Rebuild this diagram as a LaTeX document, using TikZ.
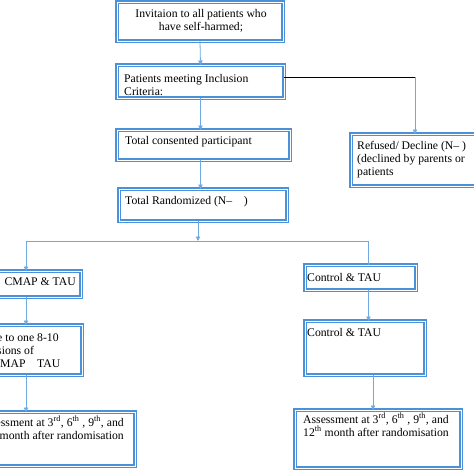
\documentclass[tikz,border=0pt]{standalone}
\usepackage{fontspec}
\setmainfont{Liberation Serif}
\usetikzlibrary{arrows.meta}

\definecolor{boxblue}{RGB}{75,145,218}
\definecolor{arrowblue}{RGB}{110,170,225}

\begin{document}
\begin{tikzpicture}[x=1pt,y=-1pt,
	stagebox/.style={draw=boxblue, double=white, double distance=0.6pt, line width=1.9pt, anchor=north west, inner sep=0pt, outer sep=0pt},
	stagetext/.style={anchor=base west, align=left, inner sep=0pt, font=\fontsize{11.7}{13}\selectfont},
	flow/.style={arrowblue, line width=0.8pt, -{Triangle[width=4.5pt,length=4.5pt]}},
	link/.style={arrowblue, line width=0.8pt}]

	\useasboundingbox (0,0) rectangle (474,474);

	% boxes
	\node[stagebox, minimum width=166pt, minimum height=39pt] (invite) at (117,2) {};
	\node[stagebox, minimum width=167pt, minimum height=33pt] (incl) at (117,65) {};
	\node[stagebox, minimum width=173pt, minimum height=30pt] (consent) at (117,130) {};
	\node[stagebox, minimum width=168pt, minimum height=32pt] (rand) at (119,189) {};
	\node[stagebox, minimum width=140pt, minimum height=52pt] (refused) at (351,134) {};

	\node[stagebox, minimum width=121pt, minimum height=26pt] (cmap) at (-40,271) {};
	\node[stagebox, minimum width=122pt, minimum height=50pt] (cmapses) at (-40,325) {};
	\node[stagebox, minimum width=165pt, minimum height=54pt] (cmapass) at (-30,412) {};

	\node[stagebox, minimum width=111pt, minimum height=25pt] (ctrl) at (305,265) {};
	\node[stagebox, minimum width=120pt, minimum height=54pt] (ctrlses) at (305,321) {};
	\node[stagebox, minimum width=166pt, minimum height=58pt] (ctrlass) at (295,410) {};

	% texts (multi-line ones sit on the base of their last line)
	\node[stagetext, anchor=base, align=center] (invitetxt) at (201,30) {Invitaion to all patients who\\have self-harmed;};
	\node[stagetext] (incltxt) at (124,95) {Patients meeting Inclusion\\Criteria:};
	\node[stagetext] (consenttxt) at (125,144) {Total consented participant};
	\node[stagetext] (randtxt) at (125,204) {Total Randomized (N–\ \ \ \ )};
	\node[stagetext] (refusedtxt) at (357,175) {Refused/ Decline (N– )\\(declined by parents or\\patients};

	\node[stagetext, anchor=base east] (cmaptxt) at (76,285) {CMAP \& TAU};
	\node[stagetext] (cmapsestxt) at (-3,367) {e to one 8-10\\sions of\\\hspace{3pt}MAP\ \ \ \ TAU};
	\node[stagetext] (cmapasstxt) at (-22,439) {Assessment at 3\textsuperscript{rd}, 6\textsuperscript{th} , 9\textsuperscript{th}, and\\12\textsuperscript{th} month after randomisation};

	\node[stagetext] (ctrltxt) at (307,281) {Control \& TAU};
	\node[stagetext] (ctrlsestxt) at (307,336) {Control \& TAU};
	\node[stagetext] (ctrlasstxt) at (303,436) {Assessment at 3\textsuperscript{rd}, 6\textsuperscript{th} , 9\textsuperscript{th}, and\\12\textsuperscript{th} month after randomisation};

	% connectors
	\coordinate (bend) at (415,77);
	\coordinate (split) at (198,241);
	\coordinate (leftdrop) at (26,241);
	\coordinate (rightdrop) at (368,241);

	\draw[flow] (invite.south) -- (incl.north);
	\draw[flow] (incl.south) -- (incl.south |- consent.north);
	\draw[flow] (consent.south -| incl.south) -- (rand.north -| incl.south);
	\draw[black, line width=0.8pt] ([yshift=4.5pt]incl.east) -- (bend);
	\draw[flow] (bend) -- (bend |- refused.north);

	\draw[flow] (rand.south -| split) -- (split);
	\draw[link] (leftdrop) -- (rightdrop);
	\draw[flow] (leftdrop) -- (leftdrop |- cmap.north);
	\draw[link] (rightdrop) -- (rightdrop |- ctrl.north);

	\draw[flow] (cmap.south -| leftdrop) -- (cmapses.north -| leftdrop);
	\draw[flow] (cmapses.south -| leftdrop) -- (cmapass.north -| leftdrop);
	\draw[flow] ([xshift=8pt]ctrl.south) -- ([xshift=8pt]ctrl.south |- ctrlses.north);
	\draw[flow] ([xshift=8pt]ctrlses.south) -- ([xshift=8pt]ctrlses.south |- ctrlass.north);

\end{tikzpicture}
\end{document}
